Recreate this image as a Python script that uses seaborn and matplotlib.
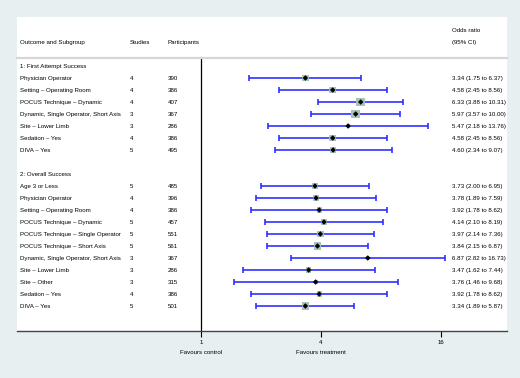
import numpy as np
import pandas as pd
import matplotlib
matplotlib.use("Agg")
import matplotlib.pyplot as plt
import matplotlib.transforms as mtrans
from matplotlib.patches import Rectangle
from matplotlib.lines import Line2D
import seaborn as sns

# rows of the table, None marks a heading / blank row
labels = ["1: First Attempt Success", "Physician Operator", "Setting \u2013 Operating Room",
          "POCUS Technique \u2013 Dynamic", "Dynamic, Single Operator, Short Axis",
          "Site \u2013 Lower Limb", "Sedation \u2013 Yes", "DIVA \u2013 Yes", "",
          "2: Overall Success", "Age 3 or Less", "Physician Operator",
          "Setting \u2013 Operating Room", "POCUS Technique \u2013 Dynamic",
          "POCUS Technique \u2013 Single Operator", "POCUS Technique \u2013 Short Axis",
          "Dynamic, Single Operator, Short Axis", "Site \u2013 Lower Limb",
          "Site \u2013 Other", "Sedation \u2013 Yes", "DIVA \u2013 Yes"]
studies = [None, 4, 4, 4, 3, 3, 4, 5, None, None, 5, 4, 4, 5, 5, 5, 3, 3, 3, 4, 5]
participants = [None, 390, 386, 407, 367, 286, 386, 495, None, None,
                485, 396, 386, 457, 551, 561, 367, 286, 315, 386, 501]
odds = [None, 3.34, 4.58, 6.33, 5.97, 5.47, 4.58, 4.60, None, None,
        3.73, 3.78, 3.92, 4.14, 3.97, 3.84, 6.87, 3.47, 3.76, 3.92, 3.34]
ci_low = [None, 1.75, 2.45, 3.88, 3.57, 2.18, 2.45, 2.34, None, None,
          2.00, 1.89, 1.78, 2.10, 2.14, 2.15, 2.82, 1.62, 1.46, 1.78, 1.89]
ci_high = [None, 6.37, 8.56, 10.31, 10.00, 13.76, 8.56, 9.07, None, None,
           6.95, 7.59, 8.62, 8.19, 7.36, 6.87, 16.73, 7.44, 9.68, 8.62, 5.87]
# relative study weight (drives the box size)
weights = [None, 36, 36, 64, 64, 9, 36, 36, None, None,
           36, 36, 25, 36, 36, 42, 9, 25, 16, 25, 49]
xticks = [1, 4, 16]

df = pd.DataFrame({"label": labels, "studies": studies, "n": participants,
                   "or": odds, "lo": ci_low, "hi": ci_high, "w": weights})
df["row"] = np.arange(len(df))
est = df.dropna(subset=["or"]).copy()

W, H = 520, 378
fig = plt.figure(figsize=(W / 100, H / 100), dpi=100)
fig.patch.set_facecolor("#e8eff1")
plt.rcParams["font.family"] = ["Liberation Sans", "DejaVu Sans"]

def fx(px):
    return px / W

def fy(py):
    return 1 - py / H

# white panel
fig.add_artist(Rectangle((fx(17), fy(331)), fx(507) - fx(17), (331 - 17) / H,
                         transform=fig.transFigure, facecolor="white",
                         edgecolor="none", zorder=0))
fig.add_artist(Line2D([fx(17), fx(507)], [fy(57.5), fy(57.5)], transform=fig.transFigure,
                      color="#d6d6d6", lw=1.6, zorder=1))

ax = fig.add_axes([fx(17), fy(331), fx(507) - fx(17), (331 - 57) / H])
ax.set_facecolor("none")
ax.set_xscale("log", base=2)
ax.set_xlim(2 ** ((17 - 201) / 60), 2 ** ((507 - 201) / 60))
ax.set_ylim((331 - 66) / 12, -(66 - 57) / 12)

# confidence intervals
ax.errorbar(est["or"], est["row"],
            xerr=[est["or"] - est["lo"], est["hi"] - est["or"]],
            fmt="none", ecolor="#3030ff", elinewidth=1.2, capsize=2.3,
            capthick=1.2, zorder=2)
sns.scatterplot(data=est, x="or", y="row", size="w", sizes=(5, 40),
                size_norm=(9, 64), marker="s", color="#a7c3b8", edgecolor="none",
                linewidth=0, legend=False, ax=ax, zorder=3)
sns.scatterplot(data=est, x="or", y="row", marker="D", color="black", s=8,
                edgecolor="none", linewidth=0, legend=False, ax=ax, zorder=4)

for s in ["top", "right"]:
    ax.spines[s].set_visible(False)
ax.spines["left"].set_position(("data", 1))
ax.spines["left"].set_color("black")
ax.spines["left"].set_linewidth(0.9)
ax.spines["bottom"].set_color("#444444")
ax.spines["bottom"].set_linewidth(1.0)
ax.set_yticks([])
ax.set_xticks(xticks)
ax.set_xticklabels([str(t) for t in xticks])
ax.xaxis.set_minor_locator(matplotlib.ticker.NullLocator())
ax.tick_params(axis="x", length=4, width=0.8, labelsize=4.4, pad=2.5, colors="black")
ax.set_xlabel("")
ax.set_ylabel("")

fs = 4.4
tr = mtrans.blended_transform_factory(fig.transFigure, ax.transData)
for _, r in df.iterrows():
    ax.text(fx(20), r["row"], r["label"], transform=tr, fontsize=fs, va="center_baseline")
    if pd.notna(r["studies"]):
        ax.text(fx(130), r["row"], str(int(r["studies"])), transform=tr, fontsize=fs,
                va="center_baseline")
        ax.text(fx(168), r["row"], str(int(r["n"])), transform=tr, fontsize=fs,
                va="center_baseline")
    if pd.notna(r["or"]):
        ax.text(fx(452), r["row"], f"{r['or']:.2f} ({r['lo']:.2f} to {r['hi']:.2f})",
                transform=tr, fontsize=fs, va="center_baseline")

# header
for x, y, t in [(20, 42, "Outcome and Subgroup"), (130, 42, "Studies"),
                (168, 42, "Participants"), (452, 30, "Odds ratio"), (452, 42, "(95% CI)")]:
    fig.text(fx(x), fy(y), t, fontsize=fs, va="center_baseline")

# favours labels
trx = mtrans.blended_transform_factory(ax.transData, fig.transFigure)
ax.text(1, fy(352), "Favours control", transform=trx, fontsize=fs, ha="center",
        va="center_baseline")
ax.text(4, fy(352), "Favours treatment", transform=trx, fontsize=fs, ha="center",
        va="center_baseline")

fig.savefig("out.png", dpi=100, facecolor=fig.get_facecolor())
